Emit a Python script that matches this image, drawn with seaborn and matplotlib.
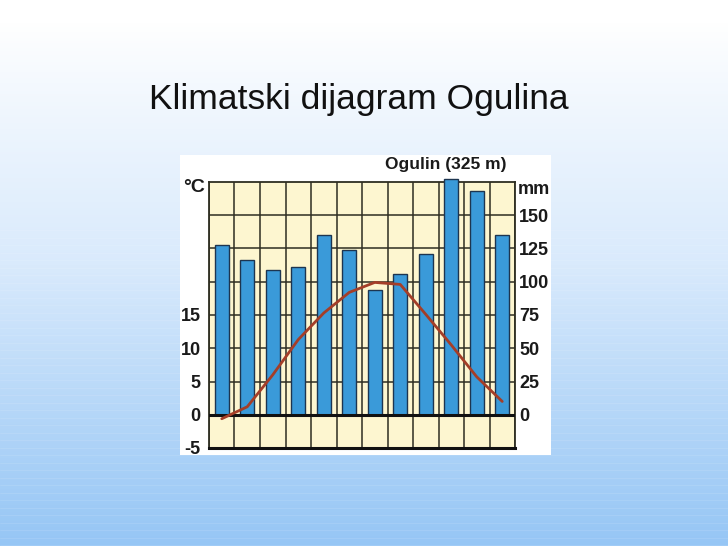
import numpy as np
import pandas as pd
import matplotlib
matplotlib.use("Agg")
import matplotlib.pyplot as plt
from matplotlib.patches import Rectangle
from matplotlib.colors import LinearSegmentedColormap
import seaborn as sns

# ---- data ----
months = ["I", "II", "III", "IV", "V", "VI", "VII", "VIII", "IX", "X", "XI", "XII"]
precip_mm = [128, 116, 109, 111, 135, 124, 94, 106, 121, 177, 168, 135]
temp_c = [-0.6, 1.2, 6.0, 11.3, 15.3, 18.4, 19.9, 19.6, 15.1, 10.5, 5.7, 2.0]
temp_ticks = [-5, 0, 5, 10, 15]
mm_ticks = [0, 25, 50, 75, 100, 125, 150]
title = "Klimatski dijagram Ogulina"
station = "Ogulin (325 m)"

df = pd.DataFrame({"month": months, "precip": precip_mm, "temp": temp_c})

sns.set_theme(style="white")
plt.rcParams["font.family"] = ["Liberation Sans", "DejaVu Sans"]

W, H = 728, 546
fig = plt.figure(figsize=(W / 100, H / 100), dpi=100)

def fx(px):
    return px / W

def fy(py):
    return 1 - py / H

# background gradient
bg = fig.add_axes([0, 0, 1, 1], zorder=-10)
grad = np.linspace(0, 1, H)
grad = np.clip((grad - 0.04) / 0.96, 0, 1) ** 0.9
cmap = LinearSegmentedColormap.from_list("bg", ["#ffffff", "#d9eafc", "#96c6f5"])
bg.imshow(grad[:, None], aspect="auto", cmap=cmap, extent=[0, 1, 0, 1], origin="upper")
for yy in np.arange(230, H, 7.5):
    bg.axhline(1 - yy / H, color="white", lw=0.6, alpha=0.12)
bg.set_xlim(0, 1)
bg.set_ylim(0, 1)
bg.axis("off")

# white inset
fig.patches.append(Rectangle((fx(180), fy(455)), fx(551) - fx(180), fy(155) - fy(455),
                             transform=fig.transFigure, facecolor="white",
                             edgecolor="none", zorder=-5))

# main axes (precipitation)
ax = fig.add_axes([fx(209), fy(448), fx(515) - fx(209), fy(182) - fy(448)])
ax.set_facecolor("#fdf6d0")
grid_c = "#2e2e22"

sns.barplot(data=df, x="month", y="precip", order=months, ax=ax, color="#3a9ad9",
            saturation=1, width=0.55, edgecolor="#1d3550", linewidth=1.0, zorder=3)
for p in ax.patches:
    p.set_clip_on(False)

ax.set_xlim(-0.5, len(months) - 0.5)
ax.set_ylim(-25, 175)
for v in mm_ticks[1:]:
    ax.axhline(v, color=grid_c, lw=1.1, zorder=1)
for b in np.arange(-0.5, len(months), 1.0):
    ax.axvline(b, color=grid_c, lw=1.1, zorder=2)
ax.axhline(0, color="#111111", lw=2.2, zorder=4)
ax.set_xticks([])
ax.set_xlabel("")
ax.set_ylabel("")
for s in ["left", "right", "top"]:
    ax.spines[s].set_visible(True)
    ax.spines[s].set_color(grid_c)
    ax.spines[s].set_linewidth(1.3)
ax.spines["bottom"].set_color("#111111")
ax.spines["bottom"].set_linewidth(2.2)

# temperature axis
ax2 = ax.twinx()
sns.lineplot(data=df, x="month", y="temp", ax=ax2, color="#a43e28", lw=2.0, sort=False, zorder=5)
ax2.set_ylim(-5, 35)
ax2.set_xlim(-0.5, len(months) - 0.5)
ax2.set_xlabel("")
ax2.set_ylabel("")
for s in ax2.spines.values():
    s.set_visible(False)

# mm ticks on the right, temperature ticks on the left
ax.yaxis.tick_right()
ax.set_yticks(mm_ticks)
ax.set_yticklabels([str(v) for v in mm_ticks], fontsize=13, fontweight="bold", color="#1a1a1a")
ax.tick_params(axis="y", which="both", left=False, labelleft=False, right=True, labelright=True,
               length=0, pad=3)

ax2.yaxis.tick_left()
ax2.set_yticks(temp_ticks)
ax2.set_yticklabels([str(v) for v in temp_ticks], fontsize=13, fontweight="bold", color="#1a1a1a")
ax2.tick_params(axis="y", which="both", right=False, labelright=False, left=True, labelleft=True,
                length=0, pad=6)

# texts
fig.text(fx(359), fy(109), title, fontsize=25.5, ha="center", va="baseline", color="#111111")
fig.text(fx(446), fy(165), station, fontsize=12.5, fontweight="bold", ha="center", va="center",
         color="#1a1a1a")
fig.text(fx(194), fy(187), "°C", fontsize=14, fontweight="bold", ha="center", va="center",
         color="#1a1a1a")
fig.text(fx(534), fy(190), "mm", fontsize=13, fontweight="bold", ha="center", va="center",
         color="#1a1a1a")

fig.savefig("out.png", dpi=100)
